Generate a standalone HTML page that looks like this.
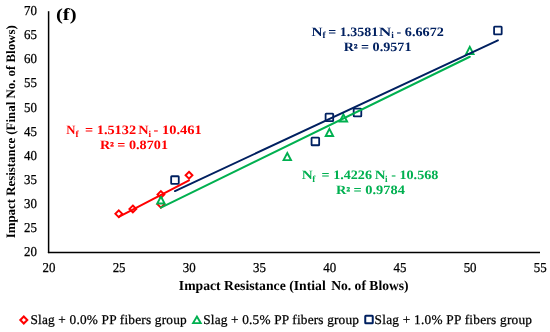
<!DOCTYPE html>
<html><head><meta charset="utf-8"><style>
html,body{margin:0;padding:0;background:#fff;width:550px;height:332px;overflow:hidden}
svg{display:block}
text{font-family:"Liberation Serif",serif;text-rendering:geometricPrecision}
.tk{font-size:13.6px;fill:#000;stroke:#000;stroke-width:0.25px}
</style></head><body>
<svg width="550" height="332" viewBox="0 0 550 332">
<line x1="48.6" y1="11.2" x2="48.6" y2="253.1" stroke="#000" stroke-width="1.5"/>
<line x1="47.9" y1="252.4" x2="540.0" y2="252.4" stroke="#000" stroke-width="1.5"/>
<text x="37.00" y="256.30" text-anchor="end" class="tk" textLength="12.9" lengthAdjust="spacingAndGlyphs">20</text>
<text x="37.00" y="232.18" text-anchor="end" class="tk" textLength="12.9" lengthAdjust="spacingAndGlyphs">25</text>
<text x="37.00" y="208.06" text-anchor="end" class="tk" textLength="12.9" lengthAdjust="spacingAndGlyphs">30</text>
<text x="37.00" y="183.94" text-anchor="end" class="tk" textLength="12.9" lengthAdjust="spacingAndGlyphs">35</text>
<text x="37.00" y="159.82" text-anchor="end" class="tk" textLength="12.9" lengthAdjust="spacingAndGlyphs">40</text>
<text x="37.00" y="135.70" text-anchor="end" class="tk" textLength="12.9" lengthAdjust="spacingAndGlyphs">45</text>
<text x="37.00" y="111.58" text-anchor="end" class="tk" textLength="12.9" lengthAdjust="spacingAndGlyphs">50</text>
<text x="37.00" y="87.46" text-anchor="end" class="tk" textLength="12.9" lengthAdjust="spacingAndGlyphs">55</text>
<text x="37.00" y="63.34" text-anchor="end" class="tk" textLength="12.9" lengthAdjust="spacingAndGlyphs">60</text>
<text x="37.00" y="39.22" text-anchor="end" class="tk" textLength="12.9" lengthAdjust="spacingAndGlyphs">65</text>
<text x="37.00" y="15.10" text-anchor="end" class="tk" textLength="12.9" lengthAdjust="spacingAndGlyphs">70</text>
<text x="48.90" y="271.7" text-anchor="middle" class="tk" textLength="12.9" lengthAdjust="spacingAndGlyphs">20</text>
<text x="119.10" y="271.7" text-anchor="middle" class="tk" textLength="12.9" lengthAdjust="spacingAndGlyphs">25</text>
<text x="189.30" y="271.7" text-anchor="middle" class="tk" textLength="12.9" lengthAdjust="spacingAndGlyphs">30</text>
<text x="259.50" y="271.7" text-anchor="middle" class="tk" textLength="12.9" lengthAdjust="spacingAndGlyphs">35</text>
<text x="329.70" y="271.7" text-anchor="middle" class="tk" textLength="12.9" lengthAdjust="spacingAndGlyphs">40</text>
<text x="399.90" y="271.7" text-anchor="middle" class="tk" textLength="12.9" lengthAdjust="spacingAndGlyphs">45</text>
<text x="470.10" y="271.7" text-anchor="middle" class="tk" textLength="12.9" lengthAdjust="spacingAndGlyphs">50</text>
<text x="540.30" y="271.7" text-anchor="middle" class="tk" textLength="12.9" lengthAdjust="spacingAndGlyphs">55</text>
<path d="M118.80 210.36L122.25 213.81L118.80 217.26L115.35 213.81Z" fill="#fff" stroke="#FF0000" stroke-width="1.9" stroke-linejoin="miter"/>
<path d="M132.84 205.53L136.29 208.98L132.84 212.43L129.39 208.98Z" fill="#fff" stroke="#FF0000" stroke-width="1.9" stroke-linejoin="miter"/>
<path d="M160.92 191.06L164.37 194.51L160.92 197.96L157.47 194.51Z" fill="#fff" stroke="#FF0000" stroke-width="1.9" stroke-linejoin="miter"/>
<path d="M160.92 200.71L164.37 204.16L160.92 207.61L157.47 204.16Z" fill="#fff" stroke="#FF0000" stroke-width="1.9" stroke-linejoin="miter"/>
<path d="M189.00 171.77L192.45 175.22L189.00 178.67L185.55 175.22Z" fill="#fff" stroke="#FF0000" stroke-width="1.9" stroke-linejoin="miter"/>
<path d="M160.92 196.44L164.62 203.54L157.22 203.54Z" fill="#fff" stroke="#00B050" stroke-width="1.9" stroke-linejoin="miter"/>
<path d="M287.28 153.02L290.98 160.12L283.58 160.12Z" fill="#fff" stroke="#00B050" stroke-width="1.9" stroke-linejoin="miter"/>
<path d="M329.40 128.90L333.10 136.00L325.70 136.00Z" fill="#fff" stroke="#00B050" stroke-width="1.9" stroke-linejoin="miter"/>
<path d="M343.44 114.43L347.14 121.53L339.74 121.53Z" fill="#fff" stroke="#00B050" stroke-width="1.9" stroke-linejoin="miter"/>
<path d="M469.80 46.89L473.50 53.99L466.10 53.99Z" fill="#fff" stroke="#00B050" stroke-width="1.9" stroke-linejoin="miter"/>
<rect x="171.16" y="176.24" width="7.60" height="7.60" rx="0.6" fill="#fff" stroke="#002060" stroke-width="1.8"/>
<rect x="311.56" y="137.65" width="7.60" height="7.60" rx="0.6" fill="#fff" stroke="#002060" stroke-width="1.8"/>
<rect x="325.60" y="113.53" width="7.60" height="7.60" rx="0.6" fill="#fff" stroke="#002060" stroke-width="1.8"/>
<rect x="353.68" y="108.70" width="7.60" height="7.60" rx="0.6" fill="#fff" stroke="#002060" stroke-width="1.8"/>
<rect x="494.08" y="26.70" width="7.60" height="7.60" rx="0.6" fill="#fff" stroke="#002060" stroke-width="1.8"/>
<line x1="118.80" y1="216.85" x2="189.00" y2="180.35" stroke="#FF0000" stroke-width="2.0" stroke-linecap="round"/>
<line x1="160.92" y1="207.71" x2="469.80" y2="56.73" stroke="#00B050" stroke-width="2.0" stroke-linecap="round"/>
<line x1="174.96" y1="191.05" x2="497.88" y2="40.37" stroke="#002060" stroke-width="2.0" stroke-linecap="round"/>
<path d="M23.80 316.50L27.30 320.00L23.80 323.50L20.30 320.00Z" fill="#fff" stroke="#FF0000" stroke-width="2.0" stroke-linejoin="miter"/>
<path d="M196.90 316.60L200.70 323.10L193.10 323.10Z" fill="#fff" stroke="#00B050" stroke-width="1.9" stroke-linejoin="miter"/>
<rect x="365.25" y="315.85" width="7.50" height="7.50" rx="0.6" fill="#fff" stroke="#002060" stroke-width="2.0"/>
<text id="r1a" x="66.30" y="133.70" fill="#FF0000" font-size="12.8" font-weight="bold" textLength="9.22" lengthAdjust="spacingAndGlyphs">N</text>
<text id="r1b" x="75.50" y="136.60" fill="#FF0000" font-size="9.2" font-weight="bold">f</text>
<text id="r1c" x="85.00" y="133.70" fill="#FF0000" font-size="12.8" font-weight="bold" textLength="51.06" lengthAdjust="spacingAndGlyphs">= 1.5132</text>
<text id="r1e" x="138.35" y="133.70" fill="#FF0000" font-size="12.8" font-weight="bold" textLength="10.38" lengthAdjust="spacingAndGlyphs">N</text>
<text id="r1f" x="148.45" y="136.60" fill="#FF0000" font-size="9.2" font-weight="bold">i</text>
<text id="r1g" x="153.60" y="133.70" fill="#FF0000" font-size="12.8" font-weight="bold" textLength="48.03" lengthAdjust="spacingAndGlyphs">- 10.461</text>
<text id="r2" x="100.00" y="148.90" fill="#FF0000" font-size="12.8" font-weight="bold" textLength="68.02" lengthAdjust="spacingAndGlyphs">R<tspan font-size="10.5" stroke="#FF0000" stroke-width="0.35">²</tspan> = 0.8701</text>
<text id="n1a" x="311.40" y="35.50" fill="#002060" font-size="12.8" font-weight="bold" textLength="10.98" lengthAdjust="spacingAndGlyphs">N</text>
<text id="n1b" x="322.40" y="38.40" fill="#002060" font-size="9.2" font-weight="bold">f</text>
<text id="n1c" x="328.20" y="35.50" fill="#002060" font-size="12.8" font-weight="bold" textLength="50.03" lengthAdjust="spacingAndGlyphs">= 1.3581</text>
<text id="n1e" x="378.70" y="35.50" fill="#002060" font-size="12.8" font-weight="bold" textLength="12.52" lengthAdjust="spacingAndGlyphs">N</text>
<text id="n1f" x="391.35" y="38.40" fill="#002060" font-size="9.2" font-weight="bold">i</text>
<text id="n1g" x="396.60" y="35.50" fill="#002060" font-size="12.8" font-weight="bold" textLength="47.23" lengthAdjust="spacingAndGlyphs">- 6.6672</text>
<text id="n2" x="343.80" y="50.50" fill="#002060" font-size="12.8" font-weight="bold" textLength="67.69" lengthAdjust="spacingAndGlyphs">R<tspan font-size="10.5" stroke="#002060" stroke-width="0.35">²</tspan> = 0.9571</text>
<text id="g1a" x="301.80" y="179.00" fill="#00B050" font-size="12.8" font-weight="bold" textLength="10.98" lengthAdjust="spacingAndGlyphs">N</text>
<text id="g1b" x="312.30" y="181.90" fill="#00B050" font-size="9.2" font-weight="bold">f</text>
<text id="g1c" x="321.60" y="179.00" fill="#00B050" font-size="12.8" font-weight="bold" textLength="50.37" lengthAdjust="spacingAndGlyphs">= 1.4226</text>
<text id="g1e" x="374.70" y="179.00" fill="#00B050" font-size="12.8" font-weight="bold" textLength="10.84" lengthAdjust="spacingAndGlyphs">N</text>
<text id="g1f" x="384.95" y="181.90" fill="#00B050" font-size="9.2" font-weight="bold">i</text>
<text id="g1g" x="391.20" y="179.00" fill="#00B050" font-size="12.8" font-weight="bold" textLength="47.23" lengthAdjust="spacingAndGlyphs">- 10.568</text>
<text id="g2" x="336.00" y="194.00" fill="#00B050" font-size="12.8" font-weight="bold" textLength="68.90" lengthAdjust="spacingAndGlyphs">R<tspan font-size="10.5" stroke="#00B050" stroke-width="0.35">²</tspan> = 0.9784</text>
<text id="l1" x="30.40" y="323.60" fill="#000" font-size="13.3" textLength="156.25" lengthAdjust="spacing" stroke="#000" stroke-width="0.25">Slag + 0.0% PP fibers group</text>
<text id="l2" x="203.20" y="323.60" fill="#000" font-size="13.3" textLength="155.74" lengthAdjust="spacing" stroke="#000" stroke-width="0.25">Slag + 0.5% PP fibers group</text>
<text id="l3" x="374.60" y="323.60" fill="#000" font-size="13.3" textLength="157.40" lengthAdjust="spacing" stroke="#000" stroke-width="0.25">Slag + 1.0% PP fibers group</text>
<text id="xt" x="178.80" y="290.00" fill="#000" font-size="13.7" font-weight="bold" textLength="146.89" lengthAdjust="spacingAndGlyphs">Impact Resistance (Intial</text>
<text id="xt2" x="331.20" y="290.00" fill="#000" font-size="13.7" font-weight="bold" textLength="77.41" lengthAdjust="spacingAndGlyphs">No. of Blows)</text>
<text id="ff" x="56.00" y="20.00" fill="#000" font-size="17" font-weight="bold" textLength="20.58" lengthAdjust="spacingAndGlyphs">(f)</text>
<text id="yt" transform="translate(15.20,238.30) rotate(-90)" font-weight="bold" font-size="12.9" textLength="213.00" lengthAdjust="spacingAndGlyphs">Impact Resistance (Final No. of Blows)</text>
</svg>
</body></html>
